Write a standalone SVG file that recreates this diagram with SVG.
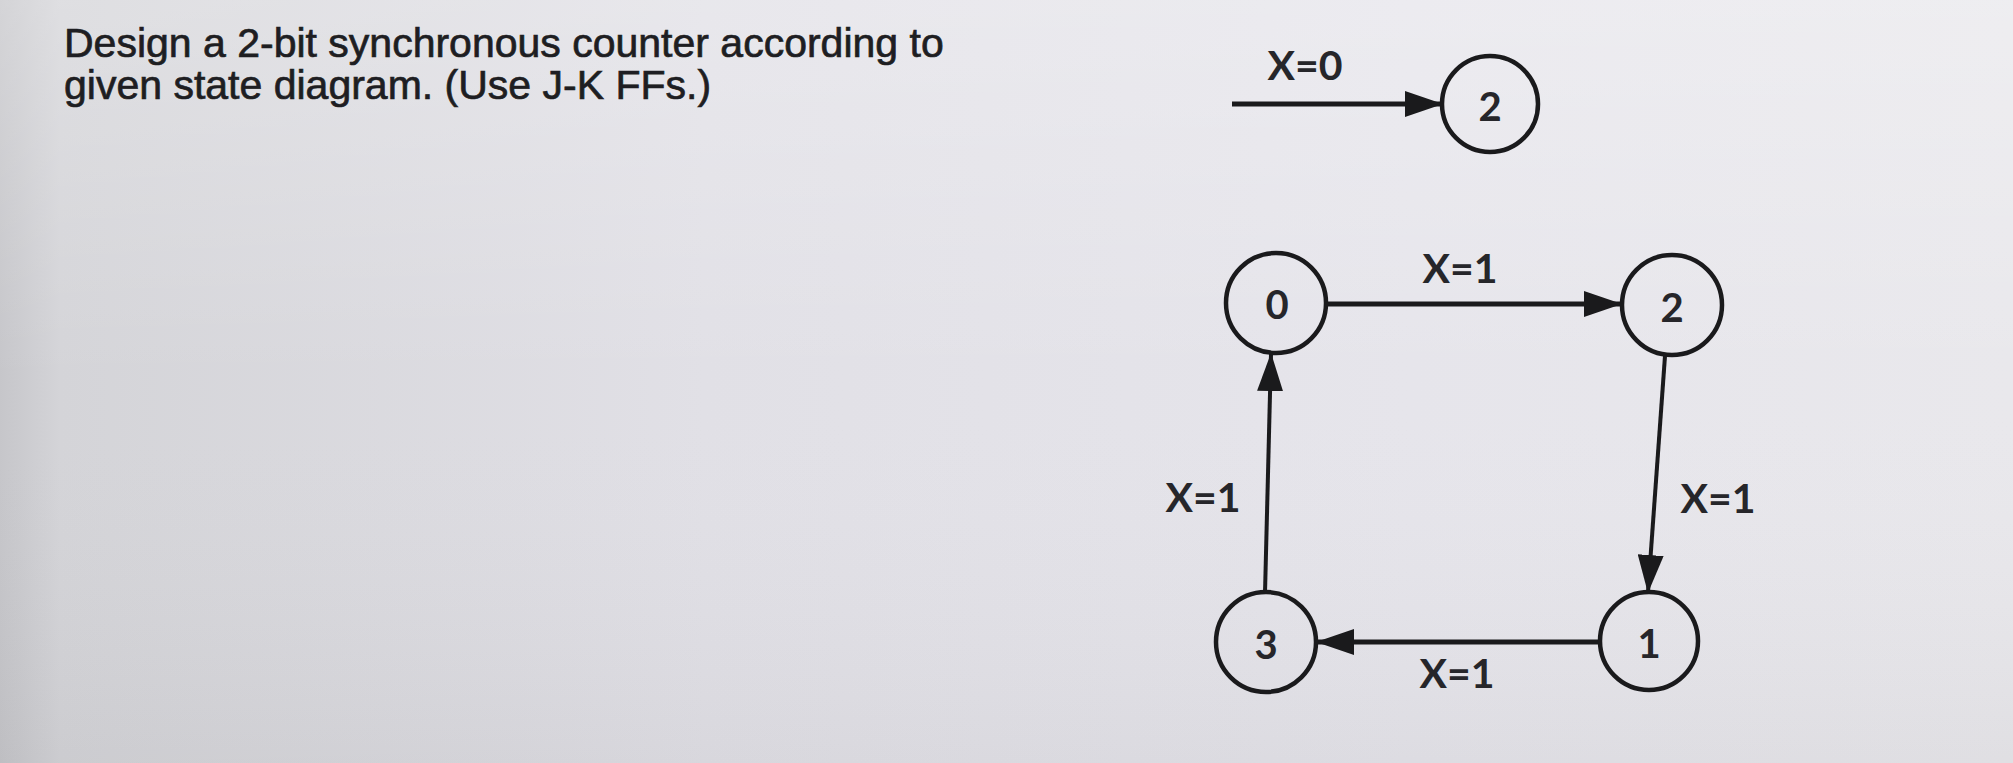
<svg xmlns="http://www.w3.org/2000/svg" width="2013" height="763" viewBox="0 0 2013 763">
<defs>
<linearGradient id="bg" x1="0" y1="0" x2="1" y2="0">
<stop offset="0" stop-color="#c6c6ca"/>
<stop offset="0.03" stop-color="#d4d4d8"/>
<stop offset="0.35" stop-color="#e1e0e6"/>
<stop offset="0.7" stop-color="#e6e5eb"/>
<stop offset="1" stop-color="#e9e8ec"/>
</linearGradient>
<linearGradient id="vg" x1="0" y1="0" x2="0" y2="1">
<stop offset="0" stop-color="#ffffff" stop-opacity="0.25"/>
<stop offset="0.5" stop-color="#ffffff" stop-opacity="0"/>
<stop offset="1" stop-color="#000000" stop-opacity="0.04"/>
</linearGradient>
<marker id="arr" viewBox="0 0 38 26" refX="37" refY="13" markerWidth="38" markerHeight="26" markerUnits="userSpaceOnUse" orient="auto">
<path d="M0,0 L38,13 L0,26 z" fill="#1a1a1c"/>
</marker>
<style>
.title{font-family:"Liberation Sans",Arial,sans-serif;font-size:41px;fill:#1e1e22;stroke:#1e1e22;stroke-width:0.7}
.lbl{font-family:Lato,"Liberation Sans",sans-serif;font-weight:bold;font-size:41px;fill:#26262a;text-anchor:middle}
.num{font-family:Lato,"Liberation Sans",sans-serif;font-weight:bold;font-size:40px;fill:#26262a;text-anchor:middle;dominant-baseline:central}
.node{fill:none;stroke:#1a1a1c;stroke-width:4.5}
.edge{fill:none;stroke:#1a1a1c;stroke-width:5;marker-end:url(#arr)}
.edgev{fill:none;stroke:#1a1a1c;stroke-width:4;marker-end:url(#arr)}
</style>
</defs>
<rect x="0" y="0" width="2013" height="763" fill="url(#bg)"/>
<rect x="0" y="0" width="2013" height="763" fill="url(#vg)"/>

<g id="title">
<text class="title" x="64" y="57">Design a 2-bit synchronous counter according to</text>
<text class="title" x="64" y="99">given state diagram. (Use J-K FFs.)</text>
</g>

<g id="connectors">
<line class="edge" x1="1232" y1="104" x2="1442" y2="104"/>
<line class="edge" x1="1327" y1="304" x2="1621" y2="304"/>
<line class="edgev" x1="1665" y1="356" x2="1648" y2="592"/>
<line class="edge" x1="1599" y1="642" x2="1317" y2="642"/>
<line class="edgev" x1="1265" y1="593" x2="1271" y2="354"/>
</g>

<g id="labels">
<text class="lbl" x="1305" y="80">X=0</text>
<text class="lbl" x="1460" y="283">X=1</text>
<text class="lbl" x="1718" y="513">X=1</text>
<text class="lbl" x="1457" y="688">X=1</text>
<text class="lbl" x="1203" y="512">X=1</text>
</g>

<g id="node-init-2">
<circle class="node" cx="1490" cy="104" r="48"/>
<text class="num" x="1490" y="106">2</text>
</g>
<g id="node-0">
<circle class="node" cx="1276" cy="303" r="50"/>
<text class="num" x="1277" y="304">0</text>
</g>
<g id="node-2">
<circle class="node" cx="1672" cy="305" r="50"/>
<text class="num" x="1672" y="307">2</text>
</g>
<g id="node-1">
<circle class="node" cx="1649" cy="641" r="49"/>
<text class="num" x="1649" y="643">1</text>
</g>
<g id="node-3">
<circle class="node" cx="1266" cy="642" r="50"/>
<text class="num" x="1266" y="644">3</text>
</g>
</svg>
